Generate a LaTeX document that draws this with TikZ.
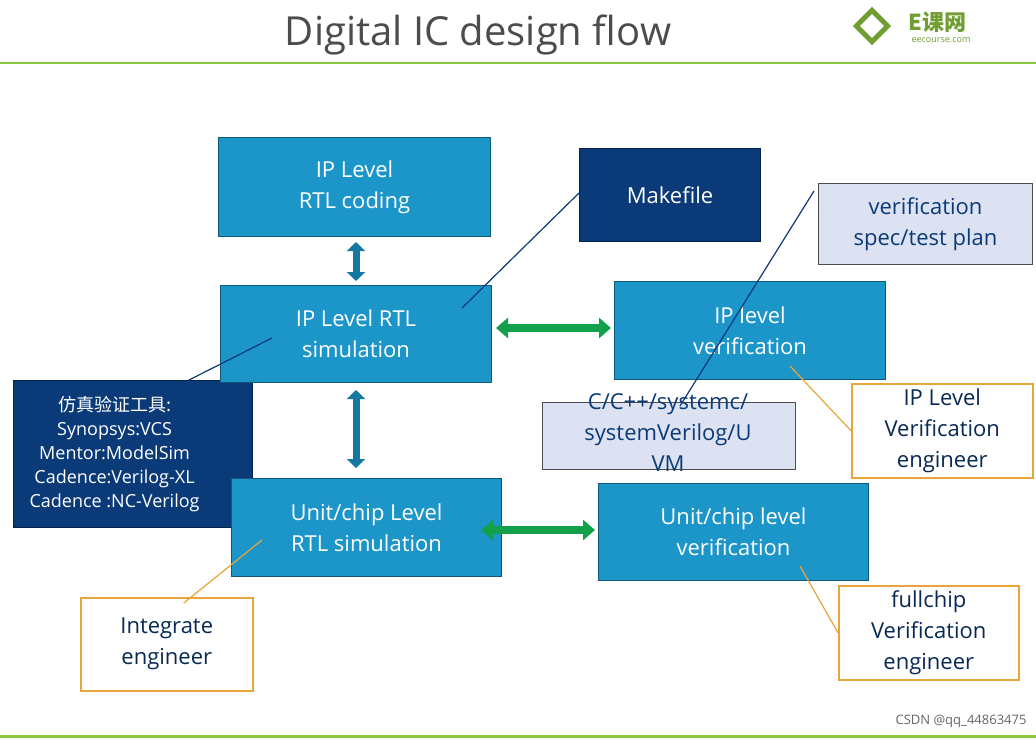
\documentclass[tikz,border=0pt]{standalone}
\usepackage{fontspec}
\setmainfont{Open Sans}
\newfontfamily\cjk{Noto Sans CJK SC}
\usetikzlibrary{arrows.meta}
\definecolor{tb}{HTML}{1C95C9}
\definecolor{db}{HTML}{0B3A78}
\definecolor{lav}{HTML}{DCE2F2}
\definecolor{org}{HTML}{E8A53A}
\definecolor{grn}{HTML}{13A04A}
\definecolor{hdr}{HTML}{8DC63F}
\tikzset{
 box/.style={draw=#1!60!black, line width=1pt, anchor=north west, align=center, inner sep=0pt},
 mid/.style={box=tb, fill=tb, text=white, font=\fontsize{22}{31}\selectfont},
 dk/.style={box=db, fill=db, text=white, font=\fontsize{22}{30}\selectfont},
 lv/.style={box=gray, fill=lav, text=db, font=\fontsize{22}{31}\selectfont},
 en/.style={draw=org, line width=1.5pt, fill=white, anchor=north west, align=center, inner sep=0pt, text=db!70!black, font=\fontsize{22}{31}\selectfont},
 ln/.style={line width=1.2pt},
 va/.style={line width=7pt, tb!80!black, {Triangle[width=18pt,length=9pt]}-{Triangle[width=18pt,length=9pt]}},
 ga/.style={line width=8pt, grn, {Triangle[width=20pt,length=12pt]}-{Triangle[width=20pt,length=12pt]}},
}
\begin{document}
\begin{tikzpicture}[x=1pt,y=-1pt]
\useasboundingbox (0,0) rectangle (1036,739);
\fill[white] (0,0) rectangle (1036,739);
\node[anchor=center, text=black!70, font=\fontsize{40}{44}\selectfont] (title) at (478,35) {Digital IC design flow};
\draw[hdr, line width=2pt] (0,63) -- (1036,63);
\draw[hdr, line width=3pt] (0,736) -- (1036,736);
\node[anchor=west, text=hdr!80!black, font=\cjk\fontsize{22}{24}\selectfont\bfseries] (logo) at (905,22) {E课网};
\node[anchor=west, text=hdr!80!black, font=\fontsize{9}{10}\selectfont] (logourl) at (908,40) {eecourse.com};
\node[draw=hdr!80!black, line width=5pt, rotate=45, minimum size=22pt, inner sep=0pt] (logod) at (872,26) {};
% tools box (behind)
\node[dk, minimum width=239pt, minimum height=147pt] (tools) at (13,380) {};
\node[anchor=north west, text=white, align=center, font=\fontsize{18}{24}\selectfont] (toolst) at (26,393) {{\cjk 仿真验证工具:}\\Synopsys:VCS\\Mentor:ModelSim\\Cadence:Verilog-XL\\Cadence :NC-Verilog};
\node[mid, minimum width=272pt, minimum height=99pt] (code) at (218,137) {IP Level\\RTL coding};
\node[dk, minimum width=181pt, minimum height=93pt] (make) at (579,148) {Makefile};
\node[lv, minimum width=214pt, minimum height=81pt] (spec) at (818,183) {verification\\spec/test plan};
\node[mid, minimum width=271pt, minimum height=97pt] (sim) at (220,285) {IP Level RTL\\simulation};
\node[mid, minimum width=271pt, minimum height=98pt] (ipv) at (614,281) {IP level\\verification};
\node[mid, minimum width=270pt, minimum height=98pt] (usim) at (231,478) {Unit/chip Level\\RTL simulation};
\node[mid, minimum width=270pt, minimum height=97pt] (uv) at (598,483) {Unit/chip level\\verification};
\node[lv, minimum width=253pt, minimum height=67pt] (cpp) at (542,402) {};
\node[anchor=north, text=db, align=center, font=\fontsize{22}{31}\selectfont] (cppt) at (668,390) {C/C++/systemc/\\systemVerilog/U\\VM};
\node[en, minimum width=181pt, minimum height=94pt] (ipe) at (851,383) {IP Level\\Verification\\engineer};
\node[en, minimum width=172pt, minimum height=93pt] (ie) at (80,597) {Integrate\\engineer};
\node[en, minimum width=180pt, minimum height=94pt] (fe) at (838,585) {fullchip\\Verification\\engineer};
% connectors
\coordinate (m1) at (462,308);
\draw[ln, db] (make.west) ++(0,-2) -- (m1);
\coordinate (s1) at (680,406);
\draw[ln, db] (spec.north west) ++(-4,8) -- (s1);
\coordinate (t1) at (272,338);
\draw[ln, db] (tools.north) ++(56,0) -- (t1);
\coordinate (v1) at (790,366);
\draw[ln, org] (v1) -- (ipe.west);
\coordinate (i1) at (262,540);
\draw[ln, org] (ie.north) ++(17,6) -- (i1);
\coordinate (u1) at (800,566);
\draw[ln, org] (u1) -- (fe.west);
\coordinate (a1) at (356,242); \coordinate (a2) at (356,281);
\draw[va] (a1) -- (a2);
\coordinate (a3) at (356,390); \coordinate (a4) at (356,468);
\draw[va] (a3) -- (a4);
\coordinate (g1) at (496,328); \coordinate (g2) at (611,328);
\draw[ga] (g1) -- (g2);
\coordinate (g3) at (481,530); \coordinate (g4) at (595,530);
\draw[ga] (g3) -- (g4);
\node[anchor=east, text=black!60, font=\fontsize{13}{14}\selectfont] (wm) at (1030,721) {CSDN @qq\_44863475};
\end{tikzpicture}
\end{document}
